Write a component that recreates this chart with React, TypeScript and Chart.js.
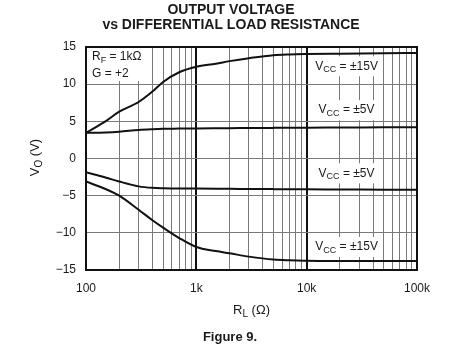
import React, { useEffect, useRef } from 'react';
import { Chart, registerables } from 'chart.js';

Chart.register(...registerables);

// ---- data ----
const loadOhms = [100, 150, 200, 300, 400, 500, 700, 1000, 1500, 2000, 3000, 5000, 7000, 10000, 20000, 50000, 100000];
const voPos15 = [3.45, 5.0, 6.3, 7.6, 9.0, 10.3, 11.6, 12.35, 12.75, 13.1, 13.5, 13.9, 14.0, 14.05, 14.1, 14.15, 14.2];
const voPos5 = [3.45, 3.5, 3.6, 3.85, 3.95, 4.0, 4.02, 4.05, 4.07, 4.08, 4.1, 4.12, 4.13, 4.15, 4.17, 4.2, 4.22];
const voNeg5 = [-1.85, -2.55, -3.1, -3.75, -3.95, -4.0, -4.03, -4.05, -4.07, -4.08, -4.1, -4.12, -4.13, -4.15, -4.17, -4.2, -4.22];
const voNeg15 = [-3.1, -4.1, -5.0, -6.9, -8.3, -9.3, -10.7, -11.9, -12.45, -12.75, -13.2, -13.6, -13.7, -13.75, -13.8, -13.8, -13.8];

const xTickValues = [100, 1000, 10000, 100000];
const xTickLabels = ['100', '1k', '10k', '100k'];
const yTickValues = [-15, -10, -5, 0, 5, 10, 15];
const titleLines = ['OUTPUT VOLTAGE', 'vs DIFFERENTIAL LOAD RESISTANCE'];
const caption = 'Figure 9.';

type Part = { t: string; sub?: boolean };

const seriesLabels: { parts: Part[]; x: number; y: number }[] = [
  { parts: [{ t: 'V' }, { t: 'CC', sub: true }, { t: ' = \u00b115V' }], x: 23000, y: 12.4 },
  { parts: [{ t: 'V' }, { t: 'CC', sub: true }, { t: ' = \u00b15V' }], x: 23000, y: 6.5 },
  { parts: [{ t: 'V' }, { t: 'CC', sub: true }, { t: ' = \u00b15V' }], x: 23000, y: -2.0 },
  { parts: [{ t: 'V' }, { t: 'CC', sub: true }, { t: ' = \u00b115V' }], x: 23000, y: -11.9 },
];
const condLine1: Part[] = [{ t: 'R' }, { t: 'F', sub: true }, { t: ' = 1k\u03a9' }];
const condLine2: Part[] = [{ t: 'G = +2' }];
const yTitle: Part[] = [{ t: 'V' }, { t: 'O', sub: true }, { t: ' (V)' }];
const xTitle: Part[] = [{ t: 'R' }, { t: 'L', sub: true }, { t: ' (\u03a9)' }];

const FAMILY = '"Liberation Sans", Arial, Helvetica, sans-serif';
const TEXT = '#1a1a1a';

function fontStr(size: number, bold = false) {
  return `${bold ? 'bold ' : ''}${size}px ${FAMILY}`;
}

function richWidth(ctx: CanvasRenderingContext2D, parts: Part[], size: number) {
  const subSize = Math.round(size * 0.75);
  let w = 0;
  for (const p of parts) {
    ctx.font = fontStr(p.sub ? subSize : size);
    w += ctx.measureText(p.t).width;
  }
  return w;
}

function drawRich(ctx: CanvasRenderingContext2D, parts: Part[], x: number, y: number, size: number, align: 'left' | 'center') {
  const subSize = Math.round(size * 0.75);
  const w = richWidth(ctx, parts, size);
  let cx = align === 'center' ? x - w / 2 : x;
  ctx.textAlign = 'left';
  ctx.textBaseline = 'middle';
  ctx.fillStyle = TEXT;
  for (const p of parts) {
    ctx.font = fontStr(p.sub ? subSize : size);
    ctx.fillText(p.t, cx, p.sub ? y + size * 0.3 : y);
    cx += ctx.measureText(p.t).width;
  }
  return w;
}

const isDecade = (v: number) => Math.abs(Math.log10(v) - Math.round(Math.log10(v))) < 1e-9;

const annotate = {
  id: 'annotate',
  beforeDatasetsDraw(chart: any) {
    const { ctx, chartArea, scales } = chart;
    const { left, top } = chartArea;
    ctx.save();
    // condition box
    ctx.fillStyle = '#ffffff';
    ctx.fillRect(left + 1, top + 1, 59, 33);
    drawRich(ctx, condLine1, left + 6, top + 10, 12, 'left');
    drawRich(ctx, condLine2, left + 6, top + 26.5, 12, 'left');
    // series labels
    for (const l of seriesLabels) {
      const cx = scales.x.getPixelForValue(l.x);
      const cy = scales.y.getPixelForValue(l.y);
      const w = richWidth(ctx, l.parts, 12);
      ctx.fillStyle = '#ffffff';
      ctx.fillRect(cx - w / 2 - 4, cy - 10, w + 8, 20);
      drawRich(ctx, l.parts, cx, cy, 12, 'center');
    }
    ctx.restore();
  },
  afterDatasetsDraw(chart: any) {
    const { ctx, chartArea } = chart;
    ctx.save();
    ctx.strokeStyle = '#111111';
    ctx.lineWidth = 2;
    ctx.strokeRect(chartArea.left, chartArea.top, chartArea.right - chartArea.left, chartArea.bottom - chartArea.top);
    ctx.restore();
  },
  afterDraw(chart: any) {
    const { ctx, chartArea } = chart;
    ctx.save();
    ctx.fillStyle = TEXT;
    ctx.textAlign = 'center';
    ctx.textBaseline = 'middle';
    ctx.font = fontStr(14, true);
    const tx = chart.width / 2 - 6;
    ctx.fillText(titleLines[0], tx, 10);
    ctx.fillText(titleLines[1], tx, 25);
    ctx.font = fontStr(13, true);
    ctx.fillText(caption, tx - 1, 337);
    // x title
    drawRich(ctx, xTitle, (chartArea.left + chartArea.right) / 2, 310, 13, 'center');
    // y title
    ctx.translate(35, (chartArea.top + chartArea.bottom) / 2 - 1);
    ctx.rotate(-Math.PI / 2);
    drawRich(ctx, yTitle, 0, 0, 13, 'center');
    ctx.restore();
  },
};

export default function App() {
  const ref = useRef<HTMLCanvasElement | null>(null);

  useEffect(() => {
    if (!ref.current) return;
    const mk = (vals: number[]) => loadOhms.map((x, i) => ({ x, y: vals[i] }));
    const lineStyle = {
      borderColor: '#111111',
      borderWidth: 2,
      pointRadius: 0,
      fill: false,
      cubicInterpolationMode: 'monotone' as const,
    };
    const chart = new Chart(ref.current, {
      type: 'line',
      data: {
        datasets: [
          { label: 'VCC = ±15V (+)', data: mk(voPos15), ...lineStyle },
          { label: 'VCC = ±5V (+)', data: mk(voPos5), ...lineStyle },
          { label: 'VCC = ±5V (−)', data: mk(voNeg5), ...lineStyle },
          { label: 'VCC = ±15V (−)', data: mk(voNeg15), ...lineStyle },
        ],
      },
      options: {
        animation: false,
        responsive: false,
        maintainAspectRatio: false,
        layout: { padding: { top: 47, right: 57, left: 0, bottom: 0 } },
        plugins: {
          legend: { display: false },
          tooltip: { enabled: false },
          title: { display: false },
        },
        scales: {
          x: {
            type: 'logarithmic',
            min: 100,
            max: 100000,
            afterBuildTicks: (scale: any) => {
              const t: { value: number }[] = [];
              for (let d = 100; d < 100000; d *= 10) {
                for (let m = 1; m <= 9; m++) t.push({ value: m * d });
              }
              t.push({ value: 100000 });
              scale.ticks = t;
            },
            afterFit: (scale: any) => {
              scale.height = 90;
            },
            ticks: {
              autoSkip: false,
              maxRotation: 0,
              minRotation: 0,
              padding: 11,
              color: TEXT,
              font: { family: FAMILY, size: 12 },
              callback: (value: any) => {
                const i = xTickValues.indexOf(Number(value));
                return i >= 0 ? xTickLabels[i] : '';
              },
            },
            grid: {
              drawTicks: false,
              color: (c: any) => (c.tick && isDecade(c.tick.value) ? '#111111' : '#7a7a7a'),
              lineWidth: (c: any) => (c.tick && isDecade(c.tick.value) ? 2 : 1),
            },
            border: { display: false },
          },
          y: {
            type: 'linear',
            min: -15,
            max: 15,
            afterBuildTicks: (scale: any) => {
              scale.ticks = yTickValues.map((v) => ({ value: v }));
            },
            afterFit: (scale: any) => {
              scale.width = 86;
            },
            ticks: {
              padding: 10,
              color: TEXT,
              font: { family: FAMILY, size: 12 },
              callback: (value: any) => {
                const v = Number(value);
                return v < 0 ? '\u2212' + Math.abs(v) : String(v);
              },
            },
            grid: {
              drawTicks: false,
              color: '#7a7a7a',
              lineWidth: 1,
            },
            border: { display: false },
          },
        },
      },
      plugins: [annotate],
    });
    return () => chart.destroy();
  }, []);

  return (
    <div style={{ position: 'absolute', left: 0, top: 0, width: 474, height: 360, background: '#ffffff' }}>
      <canvas ref={ref} width={474} height={360} style={{ display: 'block' }} />
    </div>
  );
}
